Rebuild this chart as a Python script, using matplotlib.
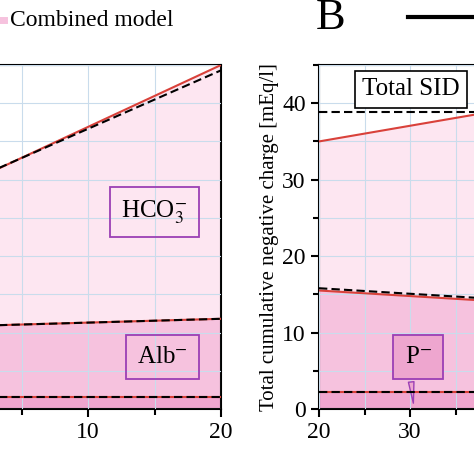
import numpy as np
import matplotlib.pyplot as plt
from matplotlib.ticker import MultipleLocator

plt.rcParams['font.family'] = ['Liberation Serif', 'DejaVu Serif']
plt.rcParams['mathtext.fontset'] = 'stix'

# left panel (only 0..20 visible)
xa = [0, 20]
a_total = [28.8, 45.0]
a_total_fit = [29.0, 44.3]
a_alb = [10.8, 11.8]
a_pi = [1.6, 1.6]

# right panel B
xb = [20, 60]
b_total = [35.0, 43.2]
b_sid = [38.8, 38.8]
b_mid = [15.5, 12.6]
b_mid_fit = [15.8, 12.9]
b_pi = [2.2, 2.2]

C1, C2, C3 = "#fde6f1", "#f6c2de", "#f0a6cf"
RED = "#d9413a"
GRID = "#c9dcec"
PURP = "#9b3fb5"

fig = plt.figure(figsize=(4.74, 4.74), dpi=100)
H = 474.0
axA = fig.add_axes([-45 / H, 65 / H, 266 / H, 344 / H])
axB = fig.add_axes([319 / H, 65 / H, 364 / H, 344 / H])


def style(ax, xlim, xmaj):
    ax.set_xlim(*xlim); ax.set_ylim(0, 45)
    ax.xaxis.set_major_locator(MultipleLocator(xmaj))
    ax.xaxis.set_minor_locator(MultipleLocator(xmaj / 2))
    ax.yaxis.set_major_locator(MultipleLocator(10))
    ax.yaxis.set_minor_locator(MultipleLocator(5))
    ax.grid(True, which="both", color=GRID, lw=0.8)
    ax.set_axisbelow(False)
    for s in ax.spines.values():
        s.set_linewidth(1.5)
    ax.tick_params(which="both", direction="out", width=1.5, labelsize=17)
    ax.tick_params(which="major", length=6)
    ax.tick_params(which="minor", length=4)


def fills(ax, x, top, mid, low, fit_mid):
    ax.fill_between(x, mid, top, color=C1, zorder=0.5)
    ax.fill_between(x, low, mid, color=C2, zorder=0.5)
    ax.fill_between(x, 0, low, color=C3, zorder=0.5)
    for y in (top, mid, low):
        ax.plot(x, y, color=RED, lw=1.5, zorder=3)
    ax.plot(x, fit_mid, "k--", lw=1.5, dashes=(4, 2), zorder=4)
    ax.plot(x, low, "k--", lw=1.5, dashes=(4, 2), zorder=4)


style(axA, (0, 20), 10)
axA.tick_params(axis="y", labelleft=False)
fills(axA, xa, a_total, a_alb, a_pi, a_alb)
axA.plot(xa, a_total_fit, "k--", lw=1.5, dashes=(4, 2), zorder=4)

style(axB, (20, 60), 10)
fills(axB, xb, b_total, b_mid, b_pi, b_mid_fit)
axB.plot(xb, b_sid, "k--", lw=1.5, dashes=(4, 2), zorder=4)
axB.set_ylabel("Total cumulative negative charge [mEq/l]", fontsize=15, labelpad=2)

box = dict(boxstyle="square,pad=0.45", fc="none", ec=PURP, lw=1.3)
axA.text(15.0, 25.8, r"HCO$_3^{\mathsf{-}}$", fontsize=18, ha="center", va="center", bbox=box)
axA.text(15.6, 6.8, r"Alb$^{\mathsf{-}}$", fontsize=18, ha="center", va="center", bbox=box)
axB.annotate("", xy=(30.4, 0.4), xytext=(30.1, 3.9),
             arrowprops=dict(arrowstyle="wedge,tail_width=0.4", fc="#eea6cf", ec=PURP, lw=1.0))
axB.text(30.9, 6.8, r"P$^{\mathsf{-}}$", fontsize=18, ha="center", va="center",
         bbox=dict(boxstyle="square,pad=0.45", fc="#eea6cf", ec=PURP, lw=1.3), zorder=5)
axB.text(30.1, 41.8, "Total SID", fontsize=18, ha="center", va="center",
         bbox=dict(boxstyle="square,pad=0.3", fc="white", ec="black", lw=1.2), zorder=5)

fig.text(10 / H, 1 - 20 / H, "Combined model", fontsize=17, va="center")
fig.add_artist(plt.Line2D([0, 4 / H], [1 - 20 / H, 1 - 20 / H], color=C2, lw=5,
                          transform=fig.transFigure))
fig.text(316 / H, 1 - 18 / H, "B", fontsize=32, va="center")
fig.add_artist(plt.Line2D([408 / H, 1.0], [1 - 17 / H, 1 - 17 / H], color="black", lw=3,
                          transform=fig.transFigure))

fig.savefig("out.png", dpi=100)
